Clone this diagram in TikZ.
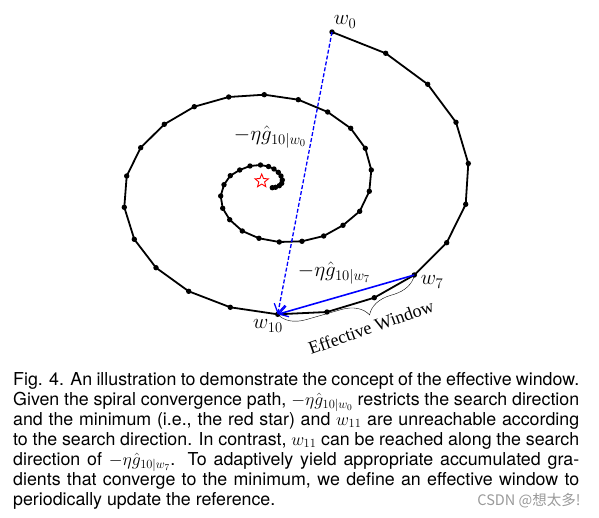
\documentclass[tikz,border=0pt]{standalone}
\usepackage{fix-cm}
\usepackage{amsmath,amssymb}
\usepackage{fontspec}
\setmainfont{TeX Gyre Heros}
\newfontfamily\winfont{Liberation Serif}
\newfontfamily\cjkfont{Noto Sans CJK SC}
\usetikzlibrary{positioning,arrows.meta,decorations.pathreplacing,shapes.geometric}

\begin{document}
\begin{tikzpicture}[x=1pt,y=-1pt,
  iterate/.style={line width=1.8pt,line join=round},
  lbl/.style={inner sep=0pt,font=\fontsize{21}{25}\selectfont},
  grad/.style={blue,line width=1.3pt,-{Straight Barb[length=9pt,width=11pt,line width=1.3pt]}}]
\useasboundingbox (0,0) rectangle (599,518);
% iterates of the spiral path
\foreach \x/\y [count=\i from 0] in {332/32, 385.7/53.3, 427.7/84.3, 456/122.3,
  468.3/163.5, 465.7/204.3, 446.7/242.7, 414.3/275, 374.3/297.7, 327/312,
  277.7/314.3, 230.3/307.3, 188.7/291.3, 156/267.7, 134.3/239.3, 124.3/207.3,
  126.7/176, 140.7/147.7, 164.3/124.3, 194.3/106.7, 228.7/97, 264.3/94.7,
  298.3/99.7, 327.7/112, 350.7/128.3, 365.3/148.3, 371.3/170, 369.3/191.3,
  359.7/211.3, 343/225.3, 323.7/236, 302/241.3, 279.3/242, 259/238.3,
  242.3/231, 229.7/219.7, 222.7/208.3, 220.7/196, 224/184.7, 230.3/175.7,
  239.7/170, 250/166, 260.5/165, 268.5/166.5, 274/169, 278.3/172.3, 281/176,
  282.3/180, 281.7/183.3, 279.3/185.7, 275.5/187.3, 272.3/187.7}
  \coordinate (w\i) at (\x,\y);
\draw[iterate] (w0) \foreach \i in {1,...,51} {-- (w\i)};
\foreach \i in {0,...,51} \fill (w\i) circle (2.7);
% minimum
\node[star,star points=5,star point ratio=2.3,draw=red,line width=0.9pt,
  minimum size=14pt,inner sep=0pt] (minimum) at (261.7,181) {};
% search directions
\draw[grad,dash pattern=on 4pt off 2pt] (w0) -- (w10);
\draw[grad,line width=1.6pt] (w7) -- (w10);
\node[lbl] (l0) at (345,22) {$w_0$};
\node[lbl] (l7) at (432,282) {$w_7$};
\node[lbl] (l10) at (268,326) {$w_{10}$};
\node[lbl] (g0) at (270,137) {$-\eta\hat{g}_{10|w_0}$};
\node[lbl] (g7) at (334,273) {$-\eta\hat{g}_{10|w_7}$};
% effective window
\draw[decorate,decoration={brace,amplitude=26pt,mirror,aspect=0.62}] (w10) -- (w7);
\node[rotate=19.5,inner sep=0pt,font=\winfont\fontsize{18}{20}\selectfont]
  (win) at (371,327) {Effective Window};
% caption
\node[anchor=base west,text width=566pt,align=justify,inner sep=0pt,
  font=\fontsize{17.8}{20}\selectfont] (caption) at (13,385)
  {Fig. 4. An illustration to demonstrate the concept of the effective window.\linebreak
  Given the spiral convergence path, $-\eta\hat{g}_{10|w_0}$ restricts the search direction\linebreak
  and the minimum (i.e., the red star) and $w_{11}$ are unreachable according\linebreak
  to the search direction. In contrast, $w_{11}$ can be reached along the search\linebreak
  direction of $-\eta\hat{g}_{10|w_7}$. To adaptively yield appropriate accumulated gra-\linebreak
  dients that converge to the minimum, we define an effective window to\linebreak
  periodically update the reference.\par};
\node[text=black!40,inner sep=0pt,font=\cjkfont\fontsize{14.5}{16}\selectfont]
  (mark) at (529,501) {CSDN @想太多!};
\end{tikzpicture}
\end{document}
